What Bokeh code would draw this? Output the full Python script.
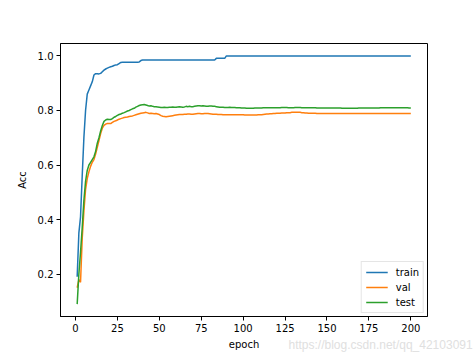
from bokeh.plotting import figure
from bokeh.models import Range1d, FixedTicker, Title, Legend
from bokeh.embed import file_html
from bokeh.resources import INLINE

epochs = list(range(1, 201))

train = [
    0.19, 0.35, 0.41, 0.56, 0.70, 0.80, 0.86, 0.875, 0.89, 0.905,
    0.93, 0.935, 0.935, 0.934, 0.936, 0.942, 0.948, 0.952, 0.955, 0.958,
    0.960, 0.962, 0.965, 0.967, 0.968, 0.972, 0.976, 0.977, 0.977, 0.977,
    0.977, 0.977, 0.977, 0.977, 0.977, 0.977, 0.977, 0.978, 0.983, 0.985,
    0.985, 0.985, 0.985, 0.985, 0.985, 0.985, 0.985, 0.985, 0.985, 0.985,
    0.985, 0.985, 0.985, 0.985, 0.985, 0.985, 0.985, 0.985, 0.985, 0.985,
    0.985, 0.985, 0.985, 0.985, 0.985, 0.985, 0.985, 0.985, 0.985, 0.985,
    0.985, 0.985, 0.985, 0.985, 0.985, 0.985, 0.985, 0.985, 0.985, 0.985,
    0.985, 0.985, 0.985, 0.991, 0.991, 0.991, 0.991, 0.991, 0.991, 1.0,
    1.0, 1.0, 1.0, 1.0, 1.0, 1.0, 1.0, 1.0, 1.0, 1.0,
    1.0, 1.0, 1.0, 1.0, 1.0, 1.0, 1.0, 1.0, 1.0, 1.0,
    1.0, 1.0, 1.0, 1.0, 1.0, 1.0, 1.0, 1.0, 1.0, 1.0,
    1.0, 1.0, 1.0, 1.0, 1.0, 1.0, 1.0, 1.0, 1.0, 1.0,
    1.0, 1.0, 1.0, 1.0, 1.0, 1.0, 1.0, 1.0, 1.0, 1.0,
    1.0, 1.0, 1.0, 1.0, 1.0, 1.0, 1.0, 1.0, 1.0, 1.0,
    1.0, 1.0, 1.0, 1.0, 1.0, 1.0, 1.0, 1.0, 1.0, 1.0,
    1.0, 1.0, 1.0, 1.0, 1.0, 1.0, 1.0, 1.0, 1.0, 1.0,
    1.0, 1.0, 1.0, 1.0, 1.0, 1.0, 1.0, 1.0, 1.0, 1.0,
    1.0, 1.0, 1.0, 1.0, 1.0, 1.0, 1.0, 1.0, 1.0, 1.0,
    1.0, 1.0, 1.0, 1.0, 1.0, 1.0, 1.0, 1.0, 1.0, 1.0,
]

val = [
    0.15, 0.18, 0.17, 0.33, 0.43, 0.51, 0.55, 0.575, 0.595, 0.61,
    0.62, 0.64, 0.665, 0.69, 0.715, 0.735, 0.745, 0.750, 0.752, 0.752,
    0.752, 0.756, 0.760, 0.762, 0.765, 0.768, 0.770, 0.772, 0.774, 0.775,
    0.776, 0.778, 0.779, 0.780, 0.782, 0.784, 0.786, 0.788, 0.790, 0.791,
    0.792, 0.793, 0.791, 0.789, 0.790, 0.789, 0.788, 0.789, 0.787, 0.785,
    0.781, 0.779, 0.778, 0.777, 0.778, 0.779, 0.780, 0.781, 0.782, 0.783,
    0.784, 0.785, 0.785, 0.785, 0.786, 0.786, 0.787, 0.787, 0.786, 0.786,
    0.787, 0.788, 0.789, 0.789, 0.788, 0.788, 0.789, 0.789, 0.789, 0.788,
    0.787, 0.786, 0.786, 0.786, 0.785, 0.785, 0.785, 0.784, 0.784, 0.784,
    0.784, 0.784, 0.784, 0.784, 0.784, 0.784, 0.784, 0.784, 0.784, 0.784,
    0.783, 0.783, 0.783, 0.783, 0.783, 0.783, 0.783, 0.783, 0.784, 0.784,
    0.784, 0.785, 0.786, 0.787, 0.787, 0.788, 0.788, 0.789, 0.789, 0.790,
    0.790, 0.790, 0.791, 0.791, 0.791, 0.792, 0.792, 0.792, 0.793, 0.793,
    0.793, 0.793, 0.793, 0.793, 0.792, 0.792, 0.791, 0.791, 0.790, 0.790,
    0.790, 0.790, 0.790, 0.789, 0.789, 0.789, 0.789, 0.789, 0.789, 0.789,
    0.789, 0.789, 0.789, 0.789, 0.789, 0.789, 0.789, 0.789, 0.789, 0.789,
    0.789, 0.789, 0.789, 0.789, 0.789, 0.789, 0.789, 0.789, 0.789, 0.789,
    0.789, 0.789, 0.789, 0.789, 0.789, 0.789, 0.789, 0.789, 0.789, 0.789,
    0.789, 0.789, 0.789, 0.789, 0.789, 0.789, 0.789, 0.789, 0.789, 0.789,
    0.789, 0.789, 0.789, 0.789, 0.789, 0.789, 0.789, 0.789, 0.789, 0.789,
]

test = [
    0.09, 0.20, 0.28, 0.37, 0.47, 0.54, 0.58, 0.60, 0.61, 0.62,
    0.63, 0.65, 0.68, 0.70, 0.725, 0.745, 0.76, 0.765, 0.768, 0.767,
    0.767, 0.770, 0.775, 0.778, 0.782, 0.785, 0.787, 0.790, 0.792, 0.795,
    0.798, 0.800, 0.803, 0.806, 0.808, 0.812, 0.815, 0.818, 0.820, 0.821,
    0.822, 0.820, 0.818, 0.816, 0.817, 0.815, 0.814, 0.814, 0.813, 0.812,
    0.811, 0.811, 0.812, 0.811, 0.811, 0.812, 0.812, 0.813, 0.812, 0.812,
    0.813, 0.814, 0.813, 0.812, 0.813, 0.815, 0.814, 0.815, 0.814, 0.814,
    0.815, 0.816, 0.817, 0.817, 0.816, 0.817, 0.816, 0.815, 0.815, 0.816,
    0.816, 0.815, 0.815, 0.814, 0.813, 0.812, 0.812, 0.812, 0.811, 0.811,
    0.811, 0.812, 0.811, 0.811, 0.811, 0.810, 0.810, 0.810, 0.809, 0.809,
    0.809, 0.808, 0.808, 0.808, 0.808, 0.808, 0.809, 0.809, 0.809, 0.809,
    0.809, 0.810, 0.810, 0.810, 0.810, 0.810, 0.810, 0.810, 0.810, 0.810,
    0.810, 0.810, 0.811, 0.811, 0.811, 0.811, 0.810, 0.810, 0.810, 0.810,
    0.811, 0.811, 0.811, 0.811, 0.810, 0.810, 0.810, 0.810, 0.810, 0.810,
    0.810, 0.810, 0.810, 0.809, 0.809, 0.809, 0.809, 0.809, 0.809, 0.809,
    0.809, 0.809, 0.809, 0.809, 0.809, 0.809, 0.809, 0.809, 0.808, 0.808,
    0.808, 0.808, 0.808, 0.808, 0.808, 0.808, 0.808, 0.808, 0.809, 0.809,
    0.809, 0.809, 0.809, 0.809, 0.809, 0.809, 0.809, 0.809, 0.809, 0.809,
    0.809, 0.810, 0.810, 0.810, 0.810, 0.810, 0.810, 0.810, 0.810, 0.810,
    0.810, 0.810, 0.810, 0.810, 0.810, 0.810, 0.810, 0.810, 0.809, 0.809,
]

x_ticks = [0, 25, 50, 75, 100, 125, 150, 175, 200]
y_ticks = [0.2, 0.4, 0.6, 0.8, 1.0]
y_tick_labels = {0.2: "0.2", 0.4: "0.4", 0.6: "0.6", 0.8: "0.8", 1.0: "1.0"}

series = [("train", train, "#1f77b4"), ("val", val, "#ff7f0e"), ("test", test, "#2ca02c")]

FONT = "DejaVu Sans"

p = figure(width=474, height=355, output_backend="svg", toolbar_location=None,
           x_range=Range1d(-8.95, 209.95), y_range=Range1d(0.0445, 1.0455),
           min_border_left=60, min_border_right=47, min_border_top=43, min_border_bottom=39)

p.background_fill_color = "white"
p.border_fill_color = "white"
p.outline_line_color = "black"
p.outline_line_width = 1
p.xgrid.visible = False
p.ygrid.visible = False

items = []
for name, ys, color in series:
    r = p.line(epochs, ys, line_color=color, line_width=1.5)
    items.append((name, [r]))

legend = Legend(items=items, location="bottom_right")
legend.label_text_font = FONT
legend.label_text_font_size = "10px"
legend.label_text_color = "black"
legend.glyph_width = 22
legend.glyph_height = 12
legend.label_height = 12
legend.label_standoff = 8
legend.spacing = 3
legend.padding = 4
legend.margin = 3
legend.border_line_color = "#cccccc"
legend.background_fill_alpha = 0.85
p.add_layout(legend)

p.xaxis.ticker = FixedTicker(ticks=x_ticks)
p.yaxis.ticker = FixedTicker(ticks=y_ticks)
p.yaxis.major_label_overrides = y_tick_labels
for ax in (p.xaxis, p.yaxis):
    ax.axis_line_color = "black"
    ax.major_tick_line_color = "black"
    ax.major_tick_out = 4
    ax.major_tick_in = 0
    ax.minor_tick_line_color = None
    ax.major_label_text_font = FONT
    ax.major_label_text_font_size = "10px"
    ax.major_label_text_color = "black"
    ax.axis_label_text_font = FONT
    ax.axis_label_text_font_size = "10px"
    ax.axis_label_text_font_style = "normal"
    ax.axis_label_text_color = "black"
    ax.major_label_standoff = 3

p.xaxis.axis_label = "epoch"
p.yaxis.axis_label = "Acc"
p.xaxis.axis_label_standoff = 4
p.yaxis.axis_label_standoff = 7

wm = Title(text="https://blog.csdn.net/qq_42103091", align="left", offset=228,
           vertical_align="top", standoff=-30,
           text_font="Liberation Sans", text_font_size="12px",
           text_font_style="normal", text_color="#e0e0e0")
p.add_layout(wm, "below")

open("out.html", "w").write(file_html(p, INLINE))
